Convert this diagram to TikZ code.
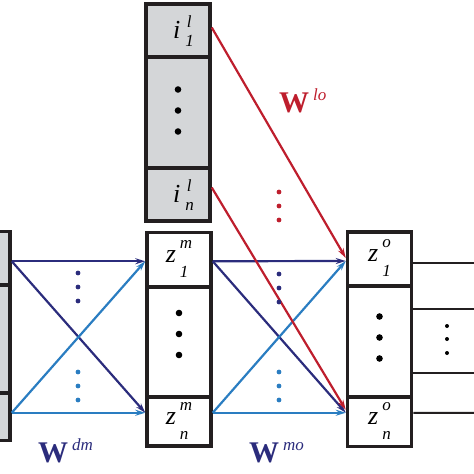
\documentclass[tikz,border=0pt]{standalone}
\usepackage{fontspec}
\setmainfont{Liberation Serif}
\usetikzlibrary{arrows.meta}
\definecolor{boxgray}{HTML}{D4D6D8}
\definecolor{navy}{HTML}{2B2C7C}
\definecolor{lblue}{HTML}{2A7DC1}
\definecolor{wred}{HTML}{BE1E2D}
\definecolor{edgec}{HTML}{231F20}
% z-type label: sup 14pt above, sub 15pt below the baseline
\newcommand\zsym[3]{\textit{#1}\kern4pt\raisebox{-1.35pt}{\fontsize{17}{17}\selectfont\begin{tabular}{@{}l@{}}\textit{#2}\\[12pt]\textit{#3}\end{tabular}}}
% i-type label: sup 10pt above, sub 9pt below the baseline
\newcommand\isym[3]{\kern11pt\textit{#1}\kern5pt\raisebox{-0.35pt}{\fontsize{17}{17}\selectfont\begin{tabular}{@{}l@{}}\kern1.5pt\textit{#2}\\[2pt]\textit{#3}\end{tabular}}}
\newcommand\wsym[1]{{\fontsize{30}{30}\selectfont\textbf{W}}\raisebox{12pt}{\fontsize{17}{17}\selectfont\kern4pt\textit{#1}}}
\begin{document}
\begin{tikzpicture}[x=1pt,y=-1pt,
  cell/.style={draw=edgec, line width=3.5pt, minimum width=64pt, inner sep=0pt,
    font=\fontsize{26}{26}\selectfont},
  graycell/.style={cell, fill=boxgray},
  whitecell/.style={cell, fill=white},
  ilab/.style={text height=25pt, text depth=10pt},
  zlab/.style={text height=24pt, text depth=19pt},
  conn/.style={line width=2.2pt, -{Stealth[length=10pt,width=6pt]}},
  navyline/.style={conn, draw=navy, color=navy},
  blueline/.style={conn, draw=lblue, color=lblue},
  redline/.style={conn, draw=wred, color=wred},
  outline/.style={line width=2pt, draw=edgec},
  bigdot/.style={fill=black},
  wlab/.style={anchor=base west, inner sep=0pt}]
\useasboundingbox (0,0) rectangle (474,474);

% left column (partly visible)
\node[graycell, minimum height=53.5pt] (L1) at (-22,258.25) {};
\node[graycell, minimum height=108pt] (Ld) at (-22,339) {};
\node[graycell, minimum height=47.5pt] (Ln) at (-22,416.75) {};

% i column
\node[graycell, ilab, minimum height=53pt] (i1) at (178,30.5) {\isym{i}{l}{1}};
\node[graycell, minimum height=111pt] (id) at (178,112.5) {};
\node[graycell, ilab, minimum height=53pt] (in) at (178,194.5) {\isym{i}{l}{n}};

% z^m column
\node[whitecell, zlab, minimum height=54.5pt] (zm1) at (179,259.75) {\zsym{z}{m}{1}};
\node[whitecell, minimum height=110pt] (zmd) at (179,342) {};
\node[whitecell, zlab, minimum height=48.5pt] (zmn) at (179,421.75) {\zsym{z}{m}{n}};

% z^o column
\node[whitecell, zlab, minimum height=54pt] (zo1) at (379.5,259) {\zsym{z}{o}{1}};
\node[whitecell, minimum height=111pt] (zod) at (379.5,341.5) {};
\node[whitecell, zlab, minimum height=49.5pt] (zon) at (379.5,421.75) {\zsym{z}{o}{n}};

% big dots in cells
\foreach \c/\o in {id/-2, zmd/-8, zod/-4}{
  \foreach \k in {-21,0,21}{
    \fill[bigdot] ([yshift=-\o pt-\k pt]\c.center) circle (3.3pt);
  }
}

% W^{dm}
\draw[navyline] ([yshift=-3pt]L1.east) -- ([yshift=-1.5pt]zm1.west);
\draw[navyline] ([yshift=-3pt]L1.east) -- ([yshift=9pt]zmn.west);
\draw[blueline] ([yshift=4pt]Ln.east) -- ([yshift=-1.5pt]zm1.west);
\draw[blueline] ([yshift=4pt]Ln.east) -- ([yshift=9pt]zmn.west);

% W^{mo}
\draw[navyline] ([yshift=-1.5pt]zm1.east) -- ([yshift=-2pt]zo1.west);
\draw[navyline] ([yshift=-1.5pt]zm1.east) -- ([yshift=9pt]zon.west);
\draw[blueline] ([yshift=9pt]zmn.east) -- ([yshift=-2pt]zo1.west);
\draw[blueline] ([yshift=9pt]zmn.east) -- ([yshift=9pt]zon.west);

% W^{lo}
\draw[redline] ([yshift=3pt]i1.east) -- ([yshift=1pt]zo1.west);
\draw[redline] ([yshift=7pt]in.east) -- ([yshift=12pt]zon.west);

% small dots
\foreach \y in {273,287,301}{\fill[navy] (78,\y) circle (2.4pt); \fill[navy] (279,\y+1) circle (2.4pt);}
\foreach \y in {372,386,400}{\fill[lblue] (78,\y) circle (2.4pt); \fill[lblue] (279,\y) circle (2.4pt);}
\foreach \y in {192,206,220}{\fill[wred] (279,\y) circle (2.4pt);}

% output lines
\coordinate (o1) at (480,263);
\coordinate (o2) at (480,309);
\coordinate (o3) at (480,373);
\coordinate (o4) at (480,413);
\draw[outline] ([yshift=-4pt]zo1.east) -- (o1);
\draw[outline] ([yshift=32.5pt]zod.east) -- (o2);
\draw[outline] ([yshift=-31.5pt]zod.east) -- (o3);
\draw[outline] ([yshift=9pt]zon.east) -- (o4);
\foreach \y in {326,339,353}{\fill[black] (447,\y) circle (2pt);}

% labels
\node[wlab, text=navy] (wdm) at (38,462) {\wsym{dm}};
\node[wlab, text=navy] (wmo) at (249,462) {\wsym{mo}};
\node[wlab, text=wred] (wlo) at (279,112) {\wsym{lo}};
\end{tikzpicture}
\end{document}
